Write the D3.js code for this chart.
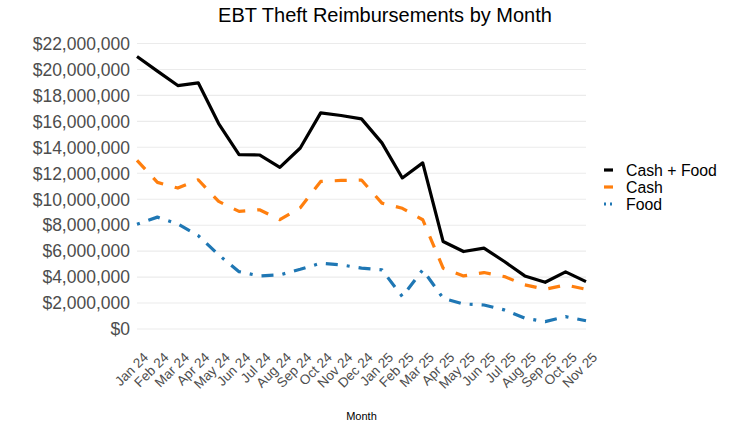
<!DOCTYPE html>
<html>
<head>
<meta charset="utf-8">
<script src="https://cdn.jsdelivr.net/npm/d3@7"></script>
<style>
  body { margin: 0; background: #fff; }
  svg { font-family: "Liberation Sans", Arial, sans-serif; }
</style>
</head>
<body>
<svg id="chart" width="731" height="432"></svg>
<script>
// Months on the x axis
const months = ["Jan 24", "Feb 24", "Mar 24", "Apr 24", "May 24", "Jun 24", "Jul 24", "Aug 24",
  "Sep 24", "Oct 24", "Nov 24", "Dec 24", "Jan 25", "Feb 25", "Mar 25", "Apr 25", "May 25",
  "Jun 25", "Jul 25", "Aug 25", "Sep 25", "Oct 25", "Nov 25"];

// Reimbursements, dollars
const cashFood = [21.0, 19.87, 18.76, 18.97, 15.83, 13.44, 13.41, 12.46, 13.95, 16.65, 16.45, 16.19,
  14.34, 11.64, 12.8, 6.74, 5.97, 6.23, 5.2, 4.09, 3.6, 4.4, 3.65].map(v => v * 1e6);
const cash = [13.0, 11.3, 10.86, 11.5, 9.83, 9.06, 9.19, 8.42, 9.35, 11.37, 11.45, 11.48,
  9.7, 9.3, 8.42, 4.69, 4.09, 4.35, 4.04, 3.4, 3.06, 3.4, 3.06].map(v => v * 1e6);
const food = [8.08, 8.62, 8.1, 7.2, 5.71, 4.42, 4.09, 4.17, 4.6, 5.07, 4.94, 4.69,
  4.56, 2.5, 4.56, 2.37, 1.93, 1.85, 1.47, 0.83, 0.57, 0.95, 0.64].map(v => v * 1e6);

const yTicks = d3.range(0, 22000001, 2000000);

const series = [
  { name: "Cash + Food", values: cashFood, color: "#000000", dash: null },
  { name: "Cash", values: cash, color: "#ff7f0e", dash: "12,12" },
  { name: "Food", values: food, color: "#1f77b4", dash: "3,9,12,9" }
];

const svg = d3.select("#chart");
const margin = { left: 137, right: 145, top: 43.5, bottom: 103 };
const width = 731, height = 432;

const x = d3.scalePoint()
  .domain(months)
  .range([margin.left, width - margin.right]);

const y = d3.scaleLinear()
  .domain([0, 22000000])
  .range([height - margin.bottom, margin.top]);

// gridlines
svg.append("g")
  .selectAll("line")
  .data(yTicks)
  .enter()
  .append("line")
  .attr("x1", margin.left)
  .attr("x2", width - margin.right)
  .attr("y1", d => y(d))
  .attr("y2", d => y(d))
  .attr("stroke", "#ebebeb")
  .attr("stroke-width", 1.1);

// y axis labels
const fmt = d3.format("$,.0f");
svg.append("g")
  .selectAll("text")
  .data(yTicks)
  .enter()
  .append("text")
  .attr("x", margin.left - 7)
  .attr("y", d => y(d))
  .attr("dy", "0.36em")
  .attr("text-anchor", "end")
  .attr("fill", "#4d4d4d")
  .style("font-size", "17.5px")
  .text(d => fmt(d));

// x axis labels, rotated 45 degrees
svg.append("g")
  .selectAll("text")
  .data(months)
  .enter()
  .append("text")
  .attr("transform", d => `translate(${x(d) + 5},${height - margin.bottom + 22}) rotate(-45)`)
  .attr("dy", "0.75em")
  .attr("text-anchor", "end")
  .attr("fill", "#4d4d4d")
  .style("font-size", "13.5px")
  .text(d => d);

// lines
const line = d3.line()
  .x((d, i) => x(months[i]))
  .y(d => y(d));

svg.append("g")
  .selectAll("path")
  .data(series.slice().reverse())
  .enter()
  .append("path")
  .attr("d", d => line(d.values))
  .attr("fill", "none")
  .attr("stroke", d => d.color)
  .attr("stroke-width", 3.2)
  .attr("stroke-dasharray", d => d.dash)
  .attr("stroke-linejoin", "round");

// title
svg.append("text")
  .attr("x", 385)
  .attr("y", 22)
  .attr("text-anchor", "middle")
  .style("font-size", "20px")
  .attr("fill", "#000")
  .text("EBT Theft Reimbursements by Month");

// x axis title
svg.append("text")
  .attr("x", (margin.left + width - margin.right) / 2)
  .attr("y", 420)
  .attr("text-anchor", "middle")
  .style("font-size", "11px")
  .attr("fill", "#000")
  .text("Month");

// legend
const legend = svg.append("g")
  .attr("transform", "translate(604,170)");

const item = legend.selectAll("g")
  .data(series)
  .enter()
  .append("g")
  .attr("transform", (d, i) => `translate(0,${i * 17})`);

item.append("line")
  .attr("x1", 0)
  .attr("x2", 9)
  .attr("stroke", d => d.color)
  .attr("stroke-width", 3.2)
  .attr("stroke-dasharray", d => d.name === "Food" ? "2,4" : null);

item.append("text")
  .attr("x", 22)
  .attr("dy", "0.36em")
  .style("font-size", "15.8px")
  .attr("fill", "#000")
  .text(d => d.name);
</script>
</body>
</html>
